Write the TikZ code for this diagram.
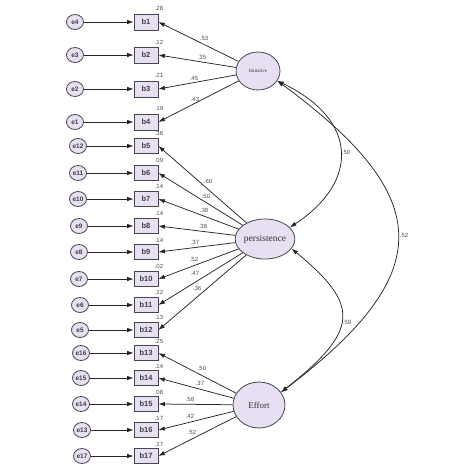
\documentclass[tikz,border=0pt]{standalone}
\usepackage{fontspec}
\setmainfont{Liberation Serif}
\setsansfont{Liberation Sans}
\usetikzlibrary{shapes.geometric,arrows.meta}
\definecolor{lav}{RGB}{232,223,242}
\definecolor{edge}{RGB}{70,70,80}
\begin{document}
\begin{tikzpicture}[x=1pt,y=-1pt,
  obs/.style={draw=edge, fill=lav, line width=0.8pt, minimum width=24pt, minimum height=15pt, inner sep=0pt, font=\sffamily\bfseries\fontsize{7.5}{8}\selectfont, text=black!75},
  err/.style={ellipse, draw=edge, fill=lav, line width=0.8pt, minimum width=17pt, minimum height=15pt, inner sep=0pt, font=\sffamily\bfseries\fontsize{6.5}{7}\selectfont, text=black!75},
  lat/.style={ellipse, draw=edge, fill=lav, line width=0.8pt, inner sep=0pt, font=\rmfamily, text=black!80},
  arr/.style={-{Latex[length=6.5pt,width=4.5pt]}, black!85, line width=0.75pt},
  cov/.style={{Latex[length=6.5pt,width=4.5pt]}-{Latex[length=6.5pt,width=4.5pt]}, black!85, line width=0.75pt},
  lbl/.style={font=\sffamily\fontsize{6}{6}\selectfont, text=black!70, inner sep=0pt}]
\useasboundingbox (0,0) rectangle (474,474);
% latent variables
\node[lat, minimum width=44pt, minimum height=38pt, font=\rmfamily\fontsize{5}{5}\selectfont] (imit) at (258,71) {Imitative};
\node[lat, minimum width=54pt, minimum height=40pt, font=\rmfamily\fontsize{9.5}{10}\selectfont] (pers) at (265,239) {persistence};
\node[lat, minimum width=52pt, minimum height=46pt, font=\rmfamily\fontsize{9}{10}\selectfont] (eff) at (259,405) {Effort};
% observed + errors
\foreach \n/\e/\y/\ex/\h in {1/4/22/75/16,2/3/55/75/16,3/2/89/75/16,4/1/122/75/16,
  5/12/146/78/15,6/11/173/78/15,7/10/199/78/15,8/9/226/79/15,9/8/252/79/15,10/7/279/79/15,11/6/305/80/15,12/5/330/80/15,
  13/16/353/81/15,14/15/378/81/15,15/14/404/81/15,16/13/430/82/15,17/17/456/82/15}{
  \node[obs, minimum height=\h pt] (b\n) at (146,\y) {b\n};
  \node[err] (e\e) at (\ex,\y) {e\e};
  \draw[arr] (e\e) -- (b\n.west);
}
% R squared labels
\foreach \n/\v/\y in {1/.28/8.5,2/.12/42,3/.21/75.5,4/.19/108.5,5/.36/133,6/.09/160,7/.14/186,8/.14/213,9/.14/240,10/.02/266,11/.22/292.5,12/.13/317.5,13/.25/341.5,14/.14/366.5,15/.08/392,16/.17/418,17/.27/444}{
  \node[lbl] (r\n) at (159,\y) {\v};
}
% loadings
\foreach \n/\v/\x/\y in {1/.53/204/38,2/.35/202/57,3/.45/194/78,4/.43/195/99}{
  \draw[arr] (imit) -- (b\n.east);
  \node[lbl] (l\n) at (\x,\y) {\v};
}
\foreach \n/\v/\x/\y in {5/.60/208/181,6/.50/206/196,7/.38/204/210,8/.38/203/226,9/.37/195/242,10/.52/194/259,11/.47/195/273,12/.36/197/288}{
  \draw[arr] (pers) -- (b\n.east);
  \node[lbl] (l\n) at (\x,\y) {\v};
}
\foreach \n/\v/\x/\y in {13/.50/202/368,14/.37/200/383,15/.58/190/399,16/.42/190/416,17/.52/192/432}{
  \draw[arr] (eff) -- (b\n.east);
  \node[lbl] (l\n) at (\x,\y) {\v};
}
% covariances
\draw[cov] (imit.-27) .. controls (359,120) and (359,182) .. (pers.25);
\draw[cov] (pers.-20) .. controls (360,305) and (360,330) .. (eff.30);
\draw[cov] (imit.-27) .. controls (437,198) and (437,274) .. (eff.30);
\node[lbl] (c1) at (346,152) {.50};
\node[lbl] (c2) at (347,322) {.59};
\node[lbl] (c3) at (404,235) {.52};
\end{tikzpicture}
\end{document}
